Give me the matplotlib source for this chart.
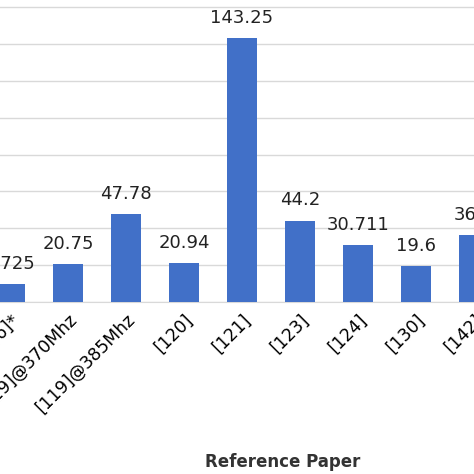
import matplotlib
matplotlib.use("Agg")
import matplotlib.pyplot as plt

categories = ["[116]*", "[119]@370Mhz", "[119]@385Mhz", "[120]", "[121]", "[123]", "[124]", "[130]", "[142]"]
values = [9.725, 20.75, 47.78, 20.94, 143.25, 44.2, 30.711, 19.6, 36.5]

fig = plt.figure(figsize=(4.74, 4.74), dpi=100)
ax = fig.add_axes([0, 1 - 302/474, 1, 302/474])
x = list(range(len(values)))
ax.bar(x, values, width=0.52, color="#4170C8", zorder=3)
ax.set_xlim(-0.17, 7.87)
ax.set_ylim(0, 160 * 302 / 295)
ax.set_yticks(range(0, 161, 20))
ax.yaxis.grid(True, color="#d9d9d9", linewidth=1, zorder=0)
ax.tick_params(axis="y", left=False, labelleft=False)
ax.tick_params(axis="x", length=0, labelsize=12.5, pad=6)
for s in ["left", "right", "top"]:
    ax.spines[s].set_visible(False)
ax.spines["bottom"].set_color("#d9d9d9")
ax.set_xticks(x)
ax.set_xticklabels(categories, rotation=45, ha="right", rotation_mode="anchor")
for xi, v in zip(x, values):
    ax.text(xi, v + 6, f"{v:g}", ha="center", va="bottom", fontsize=13, color="#222222")
fig.text(283/474, 1 - 462/474, "Reference Paper", ha="center", va="center", fontsize=12, fontweight="bold", color="#333333")
fig.savefig("out.png", dpi=100)
